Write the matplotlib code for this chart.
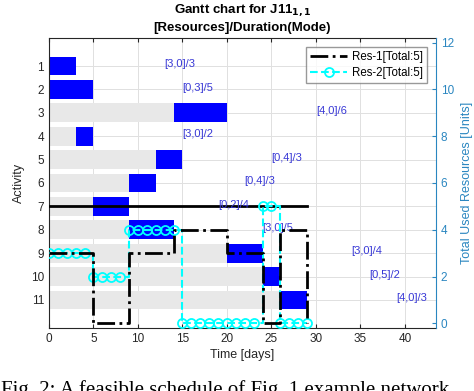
import matplotlib
matplotlib.use("Agg")
import matplotlib.pyplot as plt

# ---------------- data ----------------
activities = [1, 2, 3, 4, 5, 6, 7, 8, 9, 10, 11]
starts = [0, 0, 14, 3, 12, 9, 5, 9, 20, 24, 26]
durations = [3, 5, 6, 2, 3, 3, 4, 5, 4, 2, 3]
mode_labels = ['[3,0]/3', '[0,3]/5', '[4,0]/6', '[3,0]/2', '[0,4]/3', '[0,4]/3',
               '[0,2]/4', '[3,0]/5', '[3,0]/4', '[0,5]/2', '[4,0]/3']
makespan = 29
critical_row = 7
time_days = list(range(0, 30))
res1_used = [3, 3, 3, 3, 3, 0, 0, 0, 0, 3, 3, 3, 3, 3, 4, 4, 4, 4, 4, 4,
             3, 3, 3, 3, 0, 0, 4, 4, 4, 0]
res2_used = [3, 3, 3, 3, 3, 2, 2, 2, 2, 4, 4, 4, 4, 4, 4, 0, 0, 0, 0, 0,
             0, 0, 0, 0, 5, 5, 0, 0, 0, 0]
xticks = [0, 5, 10, 15, 20, 25, 30, 35, 40]
right_ticks = [0, 2, 4, 6, 8, 10, 12]

# ---------------- style ----------------
plt.rcParams['font.family'] = ['Liberation Sans', 'DejaVu Sans']
W, H = 474, 391
fig = plt.figure(figsize=(W / 100, H / 100), dpi=100)
ax = fig.add_axes([49 / W, 1 - 328 / H, (436 - 49) / W, (328 - 38) / H])

dark = '#262626'
rblue = '#2a86c0'
label_color = '#3838d6'
bar_h = 0.8

# gray slack bars and blue activity bars
ends = [s + d for s, d in zip(starts, durations)]
ax.barh(activities, starts, left=0, height=bar_h, color='#e8e8e8', zorder=1)
ax.barh(activities, durations, left=starts, height=bar_h, color='#0000ff', zorder=2)
for a, e, lab in zip(activities, ends, mode_labels):
    ax.text(e + 10, a - 0.08, lab, color=label_color, fontsize=8, va='center', ha='left', zorder=5)
ax.plot([0, makespan], [critical_row, critical_row], color='black', lw=2, zorder=4)

ax.set_xlim(0, 43.5)
ax.set_ylim(12.2, -0.2)
ax.set_xticks(xticks)
ax.set_yticks(activities)
ax.grid(True, color='#e0e0e0', lw=0.7, zorder=0)
ax.set_axisbelow(True)
ax.tick_params(direction='in', top=True, right=False, labelsize=8.5, colors=dark, length=3)
for s in ['left', 'top', 'bottom']:
    ax.spines[s].set_color(dark)
ax.spines['right'].set_visible(False)
ax.set_xlabel('Time [days]', fontsize=9, color=dark, labelpad=3)
ax.set_ylabel('Activity', fontsize=9, color=dark, labelpad=4)

# resources on right axis
ax2 = ax.twinx()
ax2.set_ylim(-0.2, 12.2)
ax2.set_yticks(right_ticks)
l2, = ax2.plot(time_days, res2_used, drawstyle='steps-post', color='cyan', ls='--', lw=1.5,
               marker='o', ms=6.5, mfc='none', mec='cyan', mew=1.3, zorder=3,
               label='Res-2[Total:5]')
l1, = ax2.plot(time_days, res1_used, drawstyle='steps-post', color='black', ls='-.', lw=2,
               zorder=4, label='Res-1[Total:5]')
ax2.tick_params(direction='in', colors=rblue, labelsize=8.5, length=3)
for s in ['left', 'top', 'bottom']:
    ax2.spines[s].set_visible(False)
ax2.spines['right'].set_color(rblue)
ax2.set_ylabel('Total Used Resources [Units]', fontsize=9, color=rblue, labelpad=5)
leg = ax2.legend(handles=[l1, l2], loc='upper right', fontsize=8.3, frameon=True, fancybox=False,
                 edgecolor='#808080', handlelength=3.2, borderaxespad=0.8,
                 borderpad=0.35, labelspacing=0.3, handletextpad=0.4)
leg.get_frame().set_linewidth(1.0)

fig.text(242.5 / W, 1 - 10 / H, r'Gantt chart for J11$_{\mathbf{1,1}}$', ha='center', va='center',
         fontsize=9.5, fontweight='bold', color='black')
fig.text(242.5 / W, 1 - 28 / H, '[Resources]/Duration(Mode)', ha='center', va='center',
         fontsize=9.5, fontweight='bold', color='black')

# caption of the source figure, cut at the bottom edge as in the reference
fig.text(0.003, 1 - 380 / H, 'Fig. 2: A feasible schedule of Fig. 1 example network',
         ha='left', va='top', fontsize=15, family='Liberation Serif', color='black')

fig.savefig('out.png', dpi=100)
